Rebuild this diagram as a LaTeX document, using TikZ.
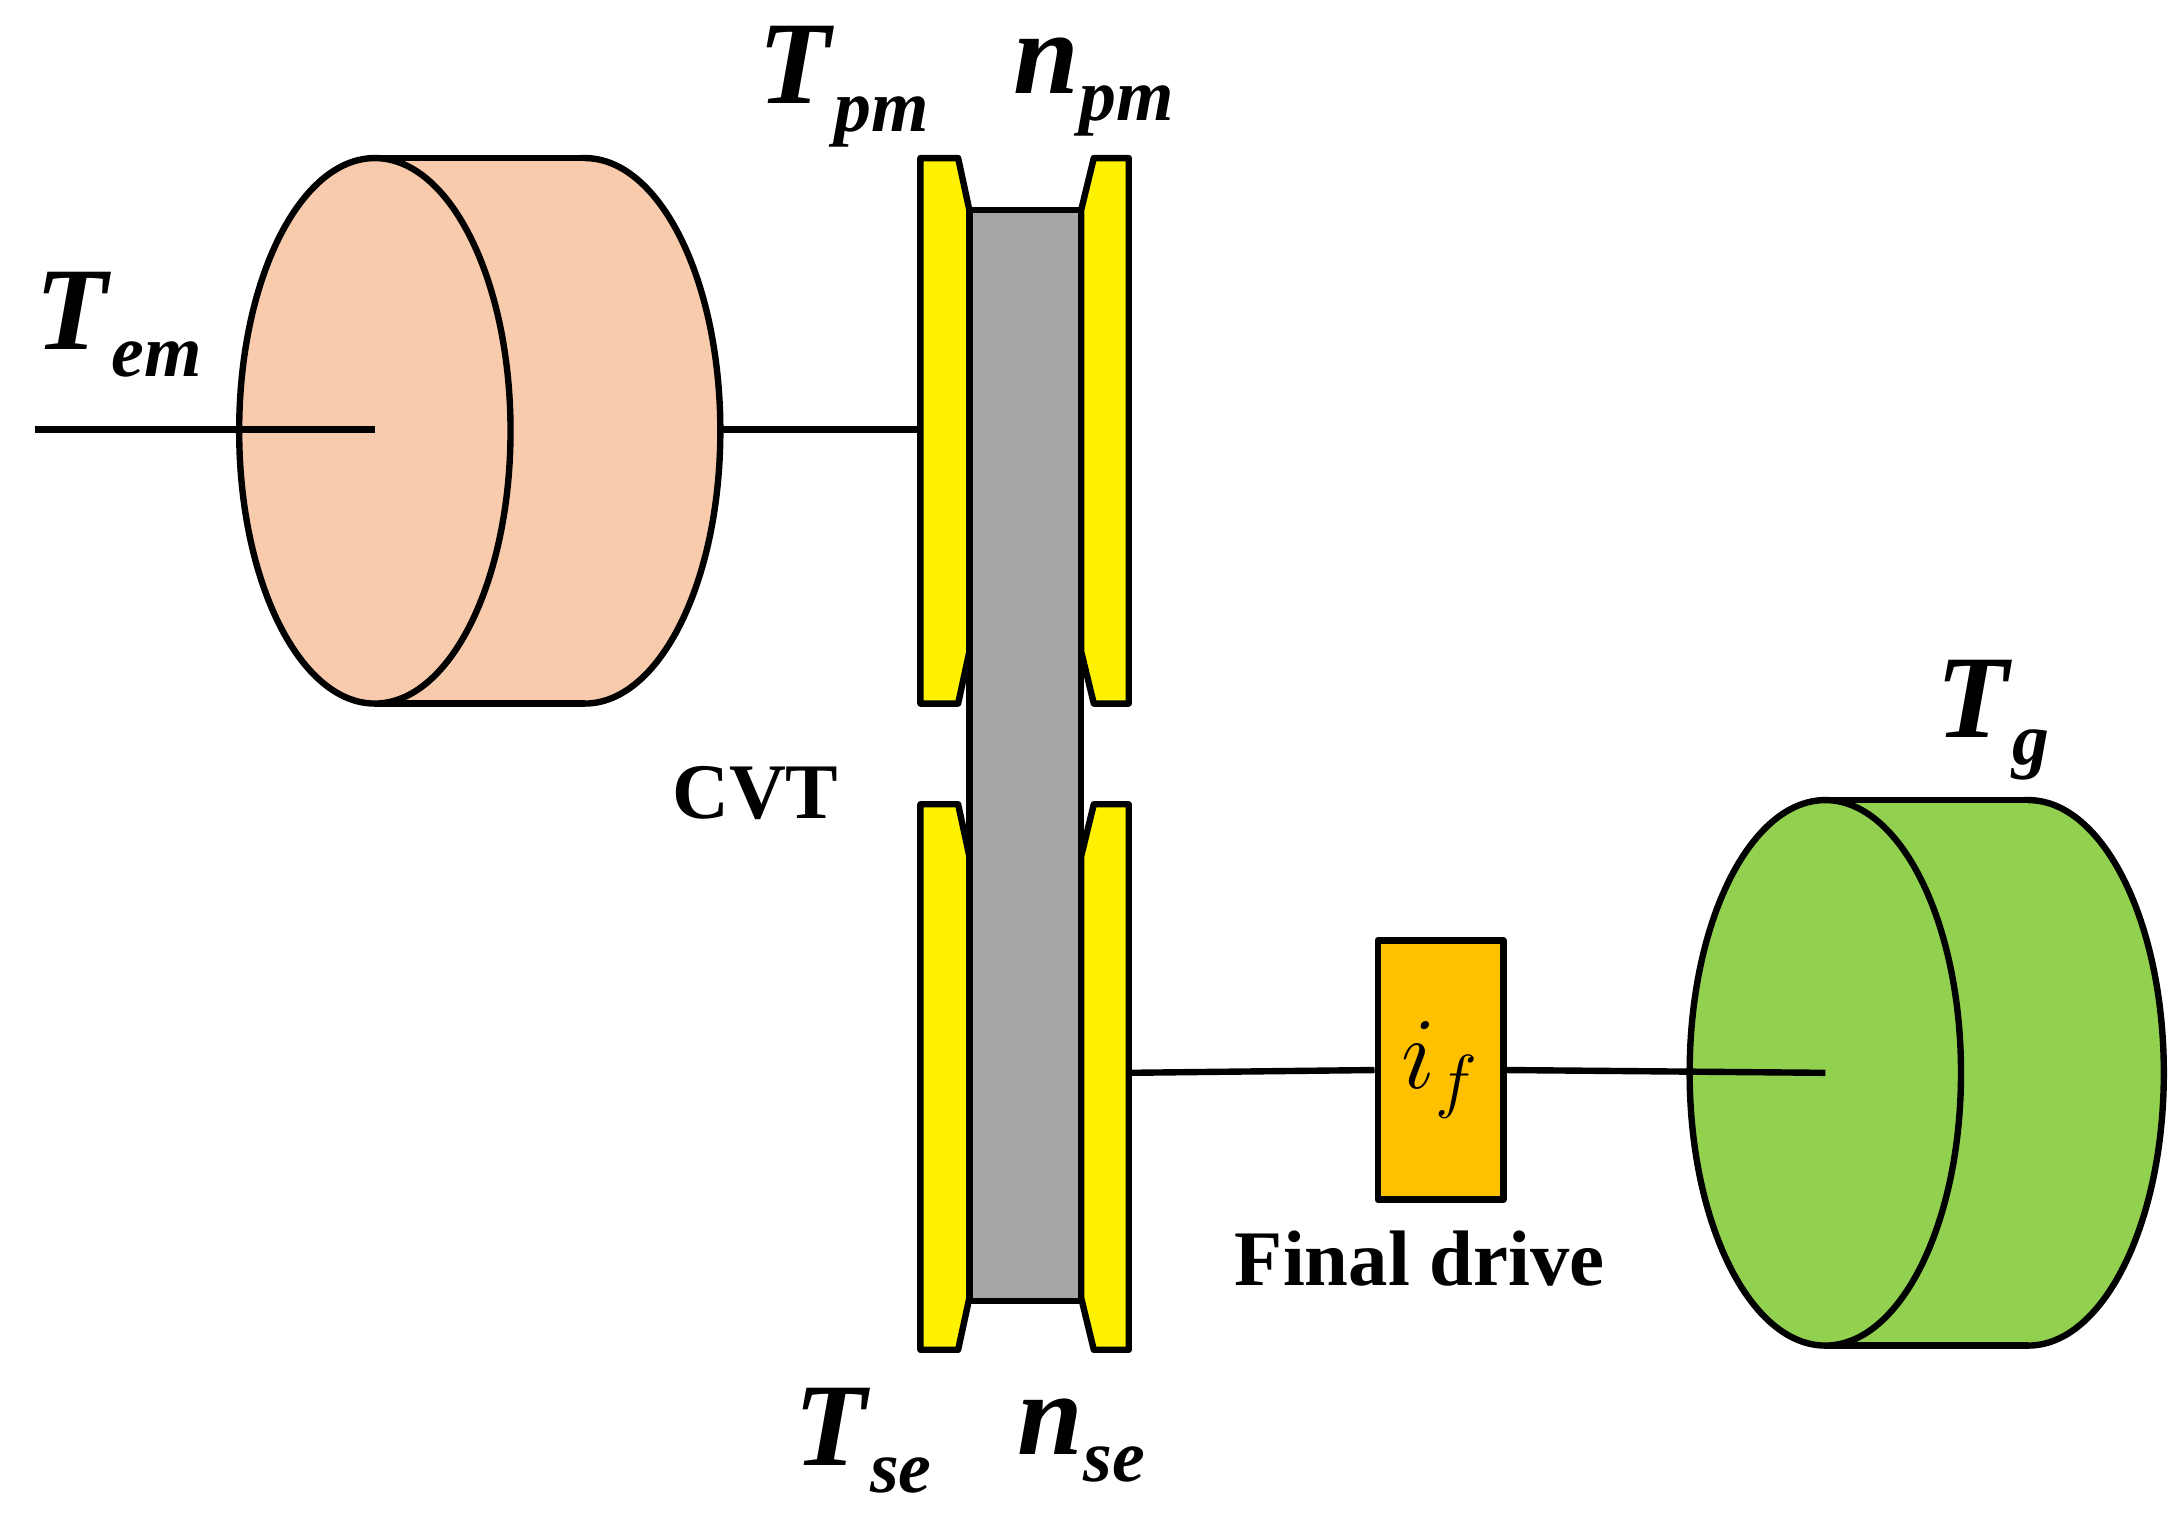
\documentclass[tikz,border=0pt]{standalone}
\usepackage{fontspec}
\setmainfont{Liberation Serif}
\definecolor{peach}{HTML}{F8CBAD}
\definecolor{grn}{HTML}{92D050}
\definecolor{orng}{HTML}{FFC000}
\definecolor{belt}{HTML}{A6A6A6}
\newcommand{\bsym}[2]{\textbf{\textit{#1}}\raisebox{-0.5ex}{\fontsize{15}{16}\selectfont\textbf{\textit{#2}}}}
\begin{document}
\begin{tikzpicture}[x=0.01cm,y=-0.01cm,line width=1.3pt,line join=round,
  sym/.style={font=\fontsize{24}{26}\selectfont},
  lbl/.style={font=\fontsize{16}{18}\selectfont\bfseries},
  plate/.style={fill=yellow,draw=black}]
\useasboundingbox (0,0) rectangle (1560,1087);

% motor cylinder
\fill[peach,draw=black] (418,308) ellipse (97 and 195);
\fill[peach] (268,113) rectangle (418,503);
\draw (268,113) -- (418,113) (268,503) -- (418,503);
\fill[peach,draw=black] (268,308) ellipse (97 and 195);

% wheel cylinder
\fill[grn,draw=black] (1450,767) ellipse (97 and 195);
\fill[grn] (1305,572) rectangle (1450,962);
\draw (1305,572) -- (1450,572) (1305,962) -- (1450,962);
\fill[grn,draw=black] (1305,767) ellipse (97 and 195);

% belt
\filldraw[fill=belt] (693,150) rectangle (773,930);

% pulleys
\foreach \t/\b in {113/503,575/965}{
  \filldraw[plate] (658,\t) -- (685,\t) -- (693,\t+37) -- (693,\b-37) -- (685,\b) -- (658,\b) -- cycle;
  \filldraw[plate] (807,\t) -- (782,\t) -- (773,\t+37) -- (773,\b-37) -- (782,\b) -- (807,\b) -- cycle;
}

% shafts
\coordinate (in) at (25,307);
\coordinate (mc) at (268,307);
\coordinate (mr) at (515,307);
\coordinate (pp) at (658,307);
\coordinate (sp) at (807,767);
\coordinate (gc) at (1305,767);
\node[draw,fill=orng,minimum width=0.9cm,minimum height=1.85cm,inner sep=0pt] (fd) at (1030,765) {\fontsize{22}{24}\selectfont$i_f$};
\draw (in) -- (mc);
\draw (mr) -- (pp);
\draw (sp) -- (fd.west);
\draw (fd.east) -- (gc);

% labels
\node[sym] (tem) at (85,232) {\bsym{T}{em}};
\node[sym] (tpm) at (603,62) {\bsym{T}{pm}};
\node[sym] (npm) at (782,62) {\bsym{n}{pm}};
\node[sym] (tse) at (617,1030) {\bsym{T}{se}};
\node[sym] (nse) at (773,1030) {\bsym{n}{se}};
\node[sym] (tg) at (1425,515) {\bsym{T}{g}};
\node[lbl] (cvt) at (540,567) {CVT};
\node[lbl] (fdl) at (1015,900) {Final drive};
\end{tikzpicture}
\end{document}
